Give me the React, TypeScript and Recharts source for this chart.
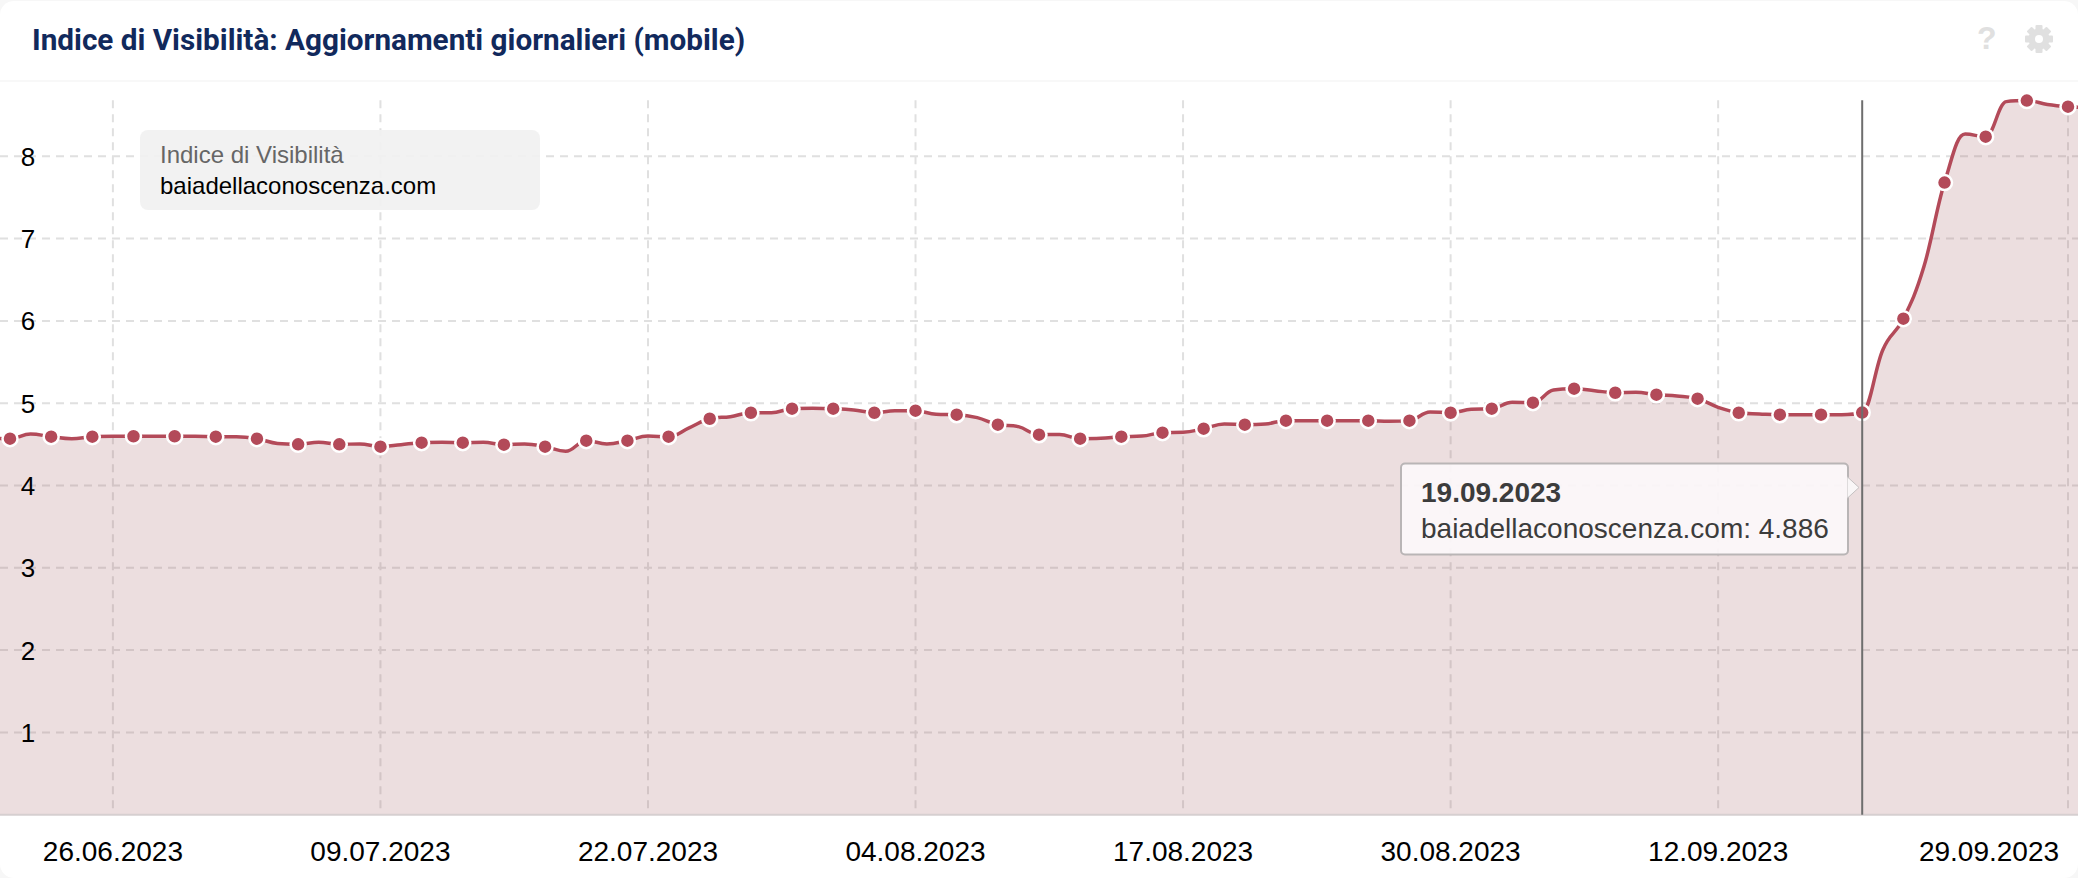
import { AreaChart, Area, XAxis, YAxis, CartesianGrid, Tooltip } from 'recharts';

const DAY = 86400000;
const firstDay = Date.UTC(2023, 5, 20); // 20.06.2023, daily values, only every other day has a marker

const visibility = [
  4.57, 4.569, 4.626, 4.593, 4.569, 4.593, 4.598, 4.598, 4.598, 4.598, 4.598, 4.593,
  4.593, 4.569, 4.51, 4.5, 4.525, 4.5, 4.505, 4.472, 4.496, 4.52, 4.525, 4.52,
  4.525, 4.496, 4.505, 4.472, 4.415, 4.545, 4.505, 4.545, 4.6, 4.593, 4.7, 4.811,
  4.836, 4.884, 4.884, 4.933, 4.938, 4.933, 4.918, 4.884, 4.909, 4.909, 4.865, 4.86,
  4.824, 4.739, 4.715, 4.617, 4.62, 4.569, 4.573, 4.593, 4.6, 4.642, 4.646, 4.69,
  4.747, 4.739, 4.747, 4.788, 4.788, 4.788, 4.788, 4.788, 4.78, 4.788, 4.894, 4.884,
  4.925, 4.933, 5.01, 5.006, 5.16, 5.176, 5.152, 5.127, 5.132, 5.103, 5.088, 5.055,
  4.95, 4.884, 4.87, 4.86, 4.86, 4.86, 4.86, 4.886, 5.647, 6.027, 6.66, 7.68,
  8.27, 8.238, 8.664, 8.677, 8.63, 8.603, 8.59,
];

const xTicks = [
  Date.UTC(2023, 5, 26), Date.UTC(2023, 6, 9), Date.UTC(2023, 6, 22), Date.UTC(2023, 7, 4),
  Date.UTC(2023, 7, 17), Date.UTC(2023, 7, 30), Date.UTC(2023, 8, 12), Date.UTC(2023, 8, 29),
];
const yTicks = [1, 2, 3, 4, 5, 6, 7, 8];
const hoverIndex = 91;

const data = visibility.map((v, i) => ({ day: firstDay + i * DAY, value: v }));

const fmtDate = (ms: number) => {
  const d = new Date(ms);
  const p = (n: number) => String(n).padStart(2, '0');
  return `${p(d.getUTCDate())}.${p(d.getUTCMonth() + 1)}.${d.getUTCFullYear()}`;
};

const FONT = '"Liberation Sans", Arial, sans-serif';
const RED = '#b34a59';

// same control points as a Highcharts spline
const hcSpline = (ctx: any) => {
  let line = NaN;
  let pts: number[][] = [];
  return {
    areaStart() { line = 0; },
    areaEnd() { line = NaN; },
    lineStart() { pts = []; },
    point(x: number, y: number) { pts.push([+x, +y]); },
    lineEnd() {
      const n = pts.length;
      let prevRight: number[] = pts[0];
      pts.forEach(([x, y], i) => {
        if (i === 0) {
          if (line) ctx.lineTo(x, y); else ctx.moveTo(x, y);
          return;
        }
        let left = [x, y];
        let right = [x, y];
        if (i < n - 1) {
          const [lx, ly] = pts[i - 1];
          const [nx, ny] = pts[i + 1];
          const lcx = (1.5 * x + lx) / 2.5;
          let lcy = (1.5 * y + ly) / 2.5;
          const rcx = (1.5 * x + nx) / 2.5;
          let rcy = (1.5 * y + ny) / 2.5;
          if (rcx !== lcx) {
            const c = ((rcy - lcy) * (rcx - x)) / (rcx - lcx) + y - rcy;
            lcy += c;
            rcy += c;
          }
          if (lcy > ly && lcy > y) { lcy = Math.max(ly, y); rcy = 2 * y - lcy; }
          else if (lcy < ly && lcy < y) { lcy = Math.min(ly, y); rcy = 2 * y - lcy; }
          if (rcy > ny && rcy > y) { rcy = Math.max(ny, y); lcy = 2 * y - rcy; }
          else if (rcy < ny && rcy < y) { rcy = Math.min(ny, y); lcy = 2 * y - rcy; }
          left = [lcx, lcy];
          right = [rcx, rcy];
        }
        ctx.bezierCurveTo(prevRight[0], prevRight[1], left[0], left[1], x, y);
        prevRight = right;
      });
      if (line) ctx.closePath();
      line = 1 - line;
    },
  };
};

const renderDot = (props: any) => {
  const { cx, cy, index } = props;
  if (index % 2 === 0) return <g key={index} />;
  return <circle key={index} cx={cx} cy={cy} r={7.5} fill={RED} stroke="#fff" strokeWidth={2.5} />;
};

const XTick = ({ x, y, payload }: any) => {
  // last label is pushed back inside the plot
  const last = payload.value === xTicks[xTicks.length - 1];
  return (
    <text x={last ? x - 79 : x} y={y + 38} textAnchor="middle" fontFamily={FONT} fontSize={28} fill="#000">
      {fmtDate(payload.value)}
    </text>
  );
};

const YTick = ({ y, payload }: any) => (
  <text x={28} y={y + 9.5} textAnchor="middle" fontFamily={FONT} fontSize={26} fill="#000">
    {payload.value}
  </text>
);

const HoverBox = () => (
  <div style={{
    position: 'relative', width: 449, height: 93, boxSizing: 'border-box',
    background: 'rgba(252,248,250,0.93)', border: '2px solid #b9b5b6', borderRadius: 5,
    fontFamily: FONT, color: '#3c3c3c', whiteSpace: 'nowrap',
  }}>
    <svg width={14} height={22} style={{ position: 'absolute', left: 445, top: 12 }}>
      <polygon points="0,0 12,11 0,22" fill="#f9f6f7" stroke="#c4c0c1" strokeWidth={1} />
    </svg>
    <div style={{ position: 'absolute', left: 19, top: 12, fontSize: 28, fontWeight: 700 }}>19.09.2023</div>
    <div style={{ position: 'absolute', left: 19, top: 48, fontSize: 28 }}>baiadellaconoscenza.com: 4.886</div>
  </div>
);

export default function App() {
  return (
    <div style={{ position: 'absolute', left: 0, top: 0, width: 2078, height: 878, background: '#f7f7f7', overflow: 'hidden' }}>
      <div style={{ position: 'absolute', left: 0, top: 1, width: 2078, height: 877, background: '#fff', borderRadius: 14 }} />
      <div style={{ position: 'absolute', left: 0, top: 80, width: 2078, height: 2, background: '#f8f8f8' }} />
      <div style={{
        position: 'absolute', left: 32, top: 22, fontFamily: 'Roboto, sans-serif', fontWeight: 700,
        fontSize: 29.7, color: '#11295c', whiteSpace: 'nowrap',
      }}>
        Indice di Visibilità: Aggiornamenti giornalieri (mobile)
      </div>
      <div style={{ position: 'absolute', left: 1977, top: 20, fontFamily: FONT, fontWeight: 700, fontSize: 32, color: '#e0e0e0' }}>?</div>
      <svg width={30} height={30} style={{ position: 'absolute', left: 2024, top: 24 }}>
        <g fill="#e0e0e0">
          {[0, 45, 90, 135].map(a => (
            <rect key={a} x={11.5} y={1} width={7} height={28} rx={1} transform={`rotate(${a} 15 15)`} />
          ))}
          <circle cx={15} cy={15} r={10.5} />
        </g>
        <circle cx={15} cy={15} r={4} fill="#fff" />
      </svg>

      <div style={{ position: 'absolute', left: 0, top: 0 }}>
        <AreaChart width={2078} height={878} data={data} margin={{ top: 100.3, right: 0, left: 0, bottom: 0 }}>
          <CartesianGrid
            stroke="#e0e0e0"
            strokeWidth={2}
            strokeDasharray="8 6"
            horizontalValues={yTicks}
            verticalValues={xTicks}
          />
          <XAxis
            dataKey="day"
            type="number"
            domain={[Date.UTC(2023, 5, 21) - 0.486 * DAY, Date.UTC(2023, 8, 29) + 0.486 * DAY]}
            allowDataOverflow
            ticks={xTicks}
            interval={0}
            height={63.3}
            tick={XTick}
            tickLine={false}
            axisLine={{ stroke: '#d6cfd0', strokeWidth: 2 }}
          />
          <YAxis
            mirror
            width={60}
            domain={[0, 8.68]}
            ticks={yTicks}
            interval={0}
            tick={YTick}
            tickLine={false}
            axisLine={false}
          />
          <Tooltip
            defaultIndex={hoverIndex}
            position={{ x: 1400, y: 462.5 }}
            cursor={{ stroke: '#6e6e6e', strokeWidth: 2 }}
            content={<HoverBox />}
            isAnimationActive={false}
            wrapperStyle={{ transition: 'none', outline: 'none' }}
          />
          <Area
            type={hcSpline as any}
            dataKey="value"
            stroke={RED}
            strokeWidth={3.5}
            fill="#a05a5f"
            fillOpacity={0.2}
            dot={renderDot}
            activeDot={false}
            isAnimationActive={false}
          />
        </AreaChart>
      </div>

      <div style={{
        position: 'absolute', left: 140, top: 130, width: 400, height: 80, borderRadius: 8,
        background: 'rgba(241,241,241,0.92)', fontFamily: FONT, fontSize: 24, whiteSpace: 'nowrap',
      }}>
        <div style={{ position: 'absolute', left: 20, top: 11, color: '#666' }}>Indice di Visibilità</div>
        <div style={{ position: 'absolute', left: 20, top: 42, color: '#000' }}>baiadellaconoscenza.com</div>
      </div>
    </div>
  );
}
